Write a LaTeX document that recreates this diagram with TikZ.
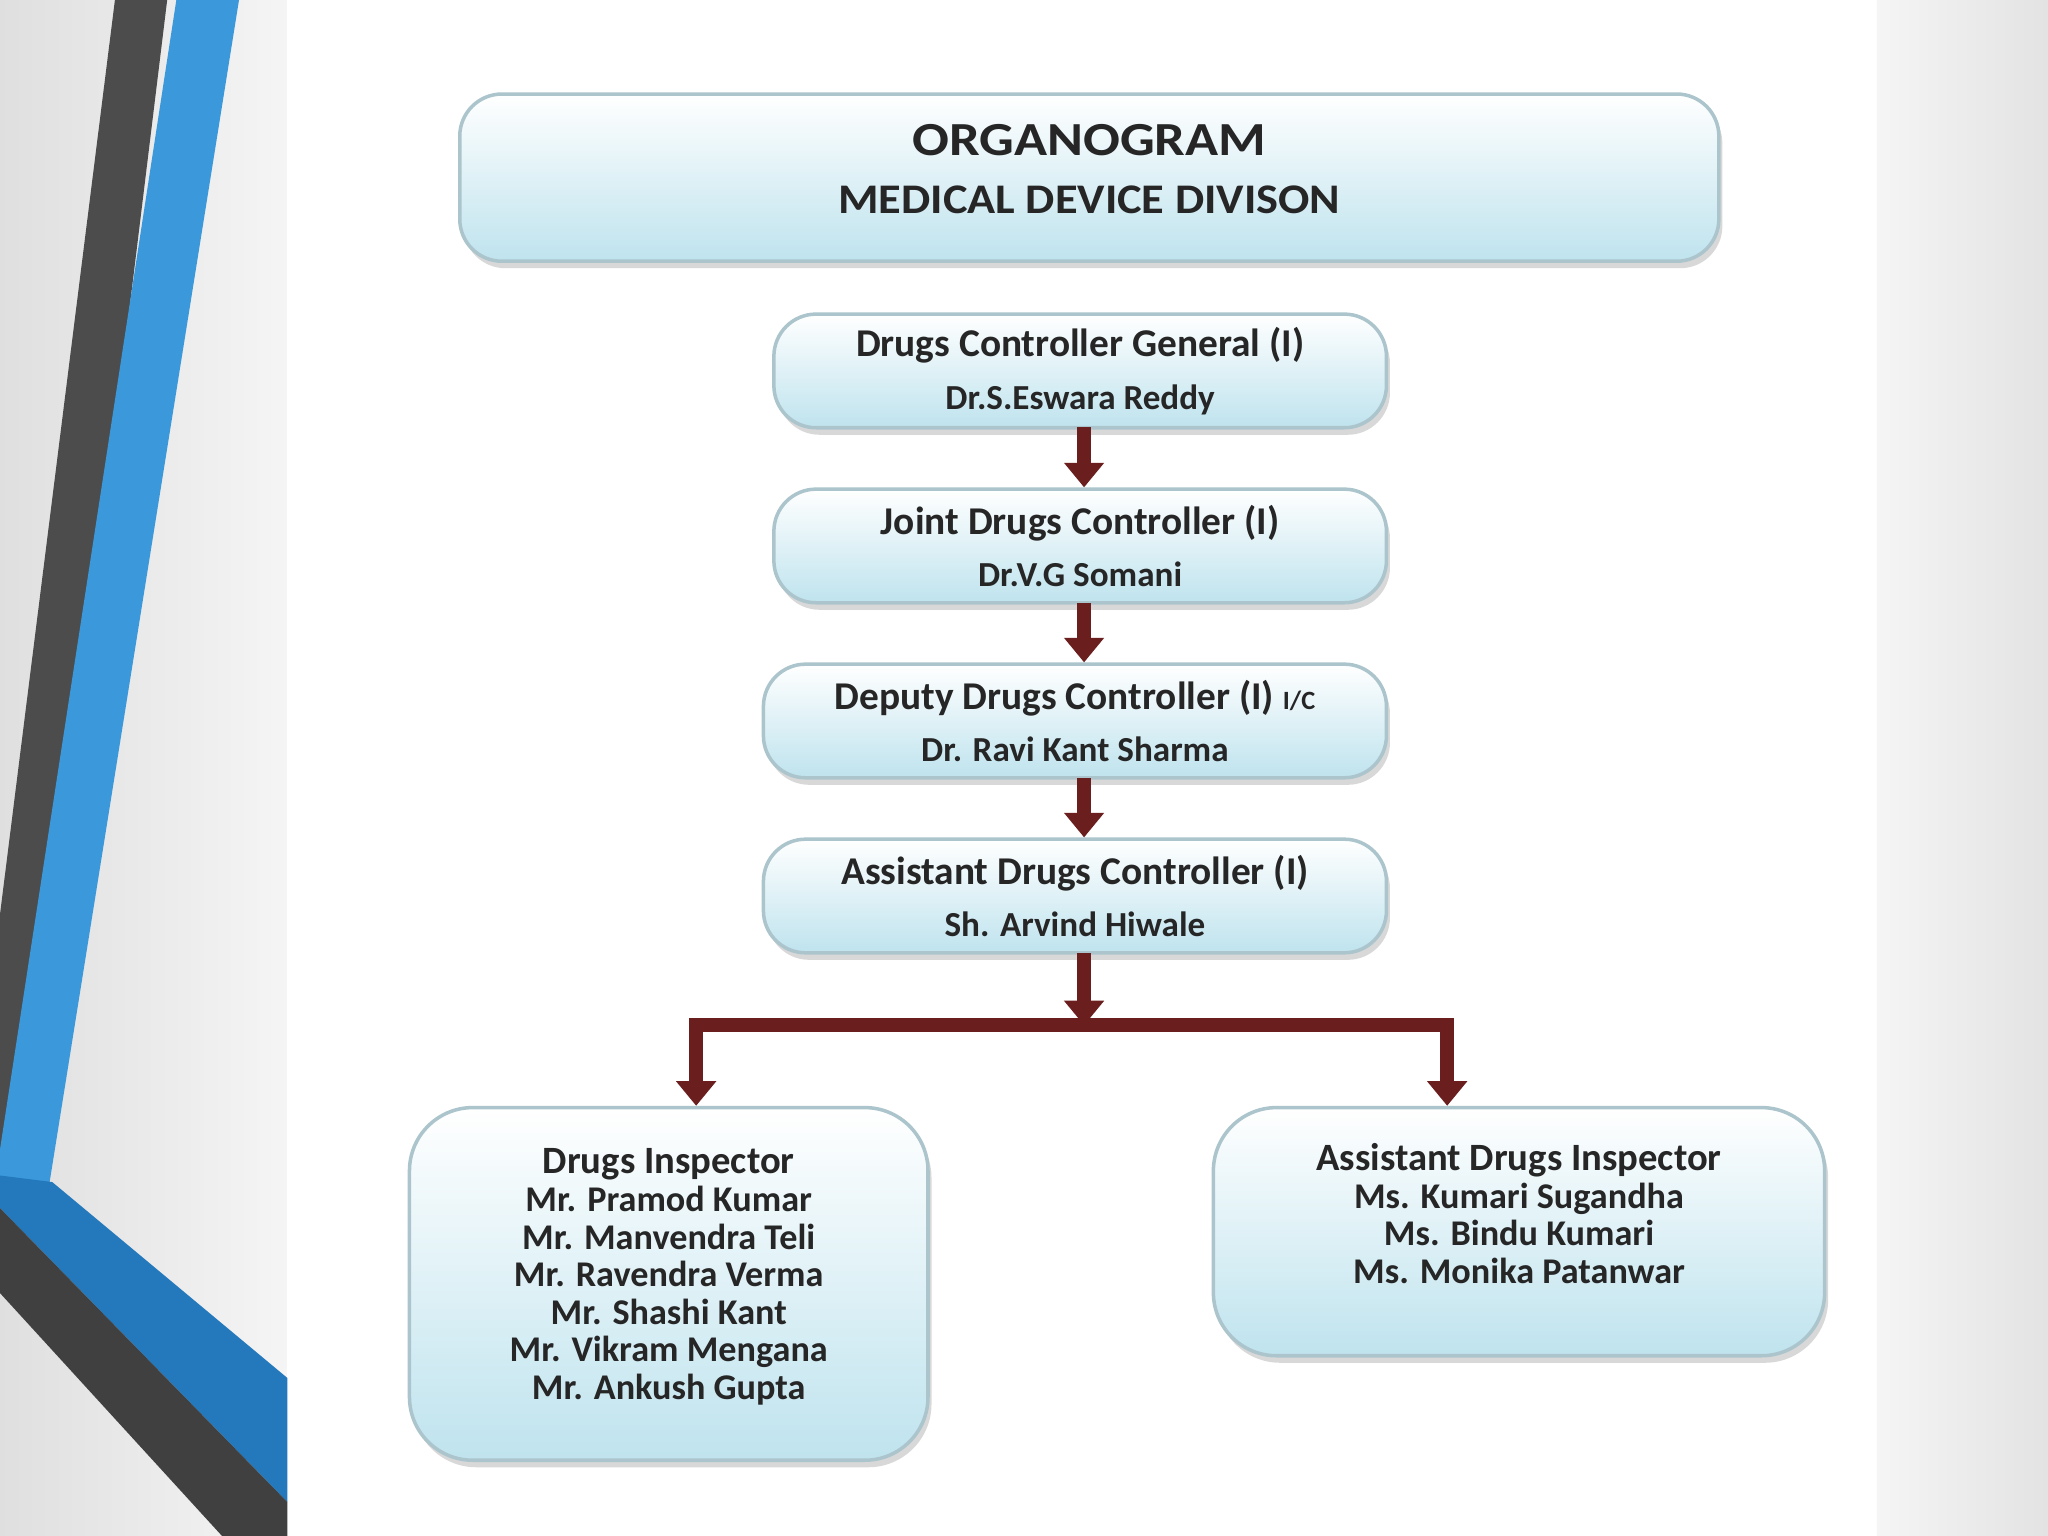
\documentclass[tikz,border=0pt]{standalone}
\usepackage{fontspec}
\setmainfont{Carlito}
\usetikzlibrary{arrows.meta,shadows}
\definecolor{arr}{HTML}{6B1E1E}
\definecolor{bl}{HTML}{BFE3EE}
\begin{document}
\begin{tikzpicture}[x=0.01306cm,y=-0.01306cm,
 box/.style={draw=bl!70!gray,line width=1pt,rounded corners=12pt,top color=white,bottom color=bl,drop shadow={opacity=0.3,shadow xshift=1pt,shadow yshift=-2pt}},
 a/.style={arr,line width=4pt,-{Triangle[length=7pt,width=11pt]}},
 t/.style={font=\bfseries,text=black!85}]
\useasboundingbox (0,0) rectangle (1568,1176);
\fill[left color=gray!25,right color=gray!8] (0,0) rectangle (220,1176);
\fill[white] (220,0) rectangle (1437,1176);
\fill[left color=gray!8,right color=gray!22] (1437,0) rectangle (1568,1176);
\fill[black!70] (88,0) -- (128,0) -- (18,900) -- (0,900) -- (0,700) -- cycle;
\fill[cyan!70!blue!80] (135,0) -- (183,0) -- (38,905) -- (0,905) -- (0,880) -- cycle;
\fill[cyan!60!blue!90!black] (0,900) -- (40,905) -- (220,1055) -- (220,1150) -- (0,925) -- cycle;
\fill[black!75] (0,925) -- (220,1150) -- (220,1176) -- (170,1176) -- (0,990) -- cycle;
\node[box,minimum width=964*0.01306cm,minimum height=128*0.01306cm] (title) at (834,136) {};
\node[t,xscale=1.15,font=\bfseries\fontsize{13.5}{15}\selectfont] at (834,107) {ORGANOGRAM};
\node[t,xscale=1.1,font=\bfseries\fontsize{12}{14}\selectfont] at (834,153) {MEDICAL DEVICE DIVISON};
\tikzset{sb/.style={box,align=center,t,font=\bfseries\fontsize{11.2}{15}\selectfont,minimum height=87*0.01306cm}}
\newcommand\nm[1]{{\fontsize{10}{12}\selectfont #1}}
\node[sb,minimum width=469*0.01306cm] (dcg) at (827,284) {Drugs Controller General (I)\\\nm{Dr.S.Eswara Reddy}};
\node[sb,minimum width=469*0.01306cm] (jdc) at (827,418) {Joint Drugs Controller (I)\\\nm{Dr.V.G Somani}};
\node[sb,minimum width=477*0.01306cm] (ddc) at (823,552) {Deputy Drugs Controller (I) {\fontsize{7.5}{8}\selectfont I/C}\\\nm{Dr. Ravi Kant Sharma}};
\node[sb,minimum width=477*0.01306cm] (adc) at (823,686) {Assistant Drugs Controller (I)\\\nm{Sh. Arvind Hiwale}};
\node[box,rounded corners=18pt,minimum width=397*0.01306cm,minimum height=270*0.01306cm] (di) at (512,983) {};
\node[t,align=center,anchor=north,font=\bfseries\fontsize{10.3}{10.7}\selectfont] at (512,870) {{\fontsize{11}{10.7}\selectfont Drugs Inspector}\\Mr. Pramod Kumar\\Mr. Manvendra Teli\\ Mr. Ravendra Verma\\Mr. Shashi Kant\\Mr. Vikram Mengana\\Mr. Ankush Gupta};
\node[box,rounded corners=18pt,minimum width=468*0.01306cm,minimum height=190*0.01306cm] (adi) at (1163,943) {};
\node[t,align=center,anchor=north,font=\bfseries\fontsize{10.3}{10.7}\selectfont] at (1163,866) {{\fontsize{11}{10.7}\selectfont Assistant Drugs Inspector}\\Ms. Kumari Sugandha\\Ms. Bindu Kumari\\Ms. Monika Patanwar};
\draw[a] (830,327) -- (jdc.north -| 830,0);
\draw[a] (830,462) -- (ddc.north -| 830,0);
\draw[a] (830,596) -- (adc.north -| 830,0);
\coordinate (j) at (830,785);
\draw[a] (830,730) -- (j);
\draw[arr,line width=4pt] (533,815) -- (533,785) -- (1108,785) -- (1108,815);
\draw[a] (533,790) -- (di.north -| 533,0);
\draw[a] (1108,790) -- (adi.north -| 1108,0);
\end{tikzpicture}
\end{document}
